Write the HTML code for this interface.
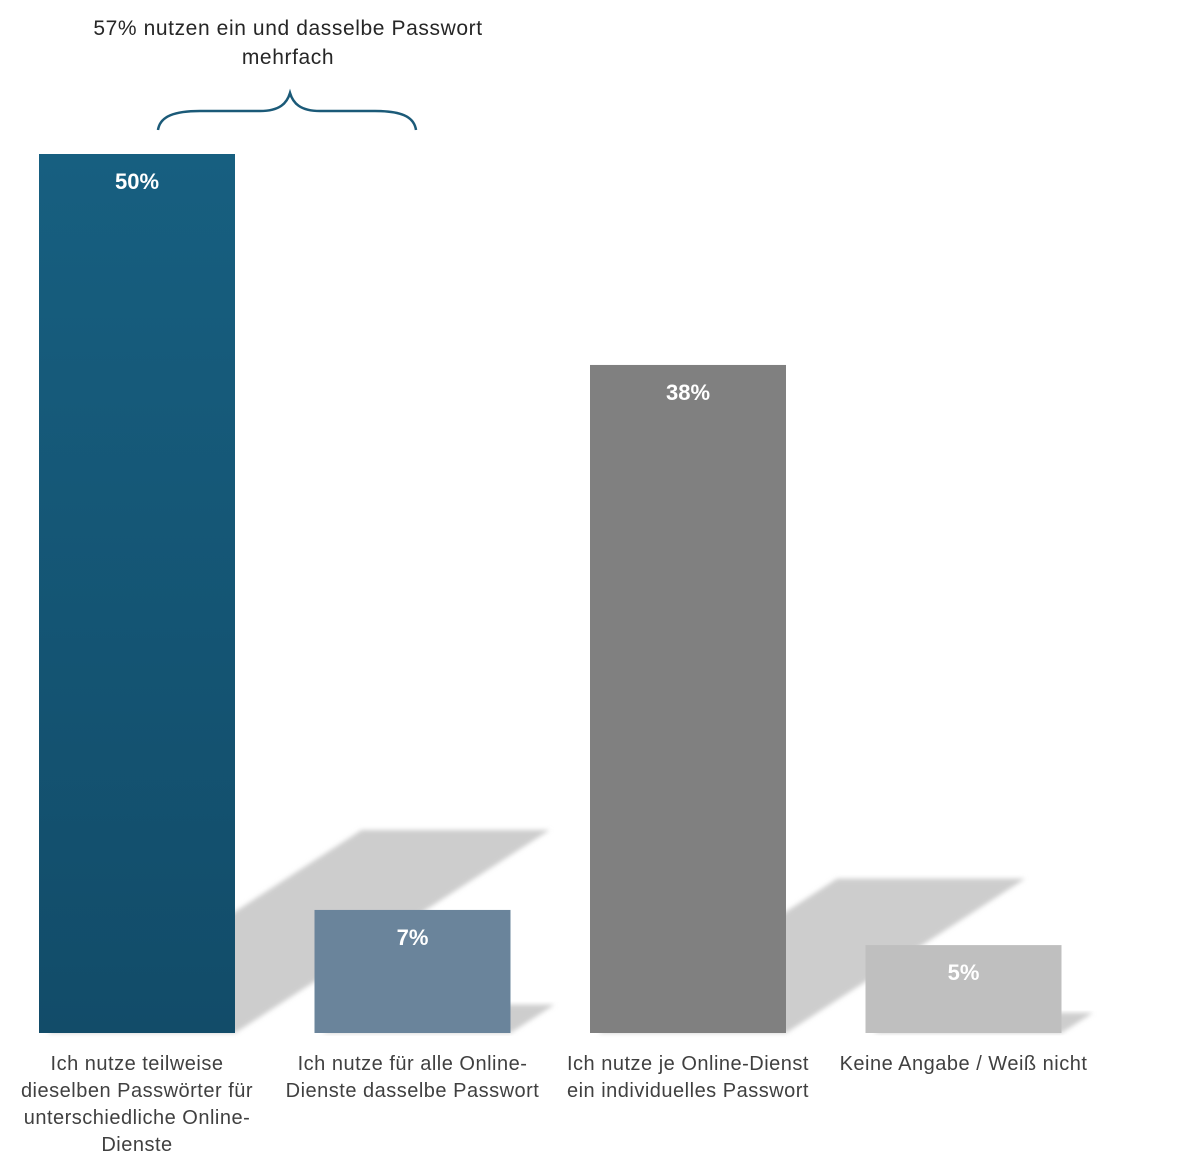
<!DOCTYPE html>
<html><head><meta charset="utf-8"><style>
html,body{margin:0;padding:0;background:#fff;}
svg{display:block;font-family:"Liberation Sans",sans-serif;}
</style></head><body>
<svg id="chart" width="1200" height="1169" viewBox="0 0 1200 1169">
<defs>
<linearGradient id="g1" x1="0" y1="0" x2="0" y2="1"><stop offset="0" stop-color="#175f80"/><stop offset="1" stop-color="#124c69"/></linearGradient>
<filter id="blur" x="-10%" y="-10%" width="120%" height="120%"><feGaussianBlur stdDeviation="2.5"/></filter>
</defs>
<g id="shadows"></g>
<g id="bars"></g>
<g id="labels"></g>
<text x="288" y="35" text-anchor="middle" font-size="21" letter-spacing="0.6" fill="#262626">57% nutzen ein und dasselbe Passwort</text>
<text x="288" y="64" text-anchor="middle" font-size="21" letter-spacing="0.6" fill="#262626">mehrfach</text>
<path d="M158,130 C160,116 175,111 200,111 L260,111 C280,111 287,103 290,93 C293,103 300,111 320,111 L375,111 C400,111 414,116 416,130" fill="none" stroke="#1b5a78" stroke-width="2.5"/>
</svg>
<script>
const categories = [
  ["Ich nutze teilweise","dieselben Passwörter für","unterschiedliche Online-","Dienste"],
  ["Ich nutze für alle Online-","Dienste dasselbe Passwort"],
  ["Ich nutze je Online-Dienst","ein individuelles Passwort"],
  ["Keine Angabe / Weiß nicht"]
];
const values = [50, 7, 38, 5];
const valueLabels = ["50%", "7%", "38%", "5%"];
const colors = ["url(#g1)", "#6a849b", "#808080", "#bfbfbf"];

const NS = "http://www.w3.org/2000/svg";
const baseY = 1033, pxPer = 17.58, barW = 196, x0 = 39, step = 275.5;
const yScale = v => baseY - v * pxPer;
const xScale = i => x0 + i * step;
const sh = document.getElementById('shadows'), bg = document.getElementById('bars'), lg = document.getElementById('labels');
function mk(tag, attrs){const e=document.createElementNS(NS,tag);for(const k in attrs)e.setAttribute(k,attrs[k]);return e;}
values.forEach((v,i)=>{
  const x = xScale(i), top = yScale(v), h = baseY - top;
  const dx = 0.358*h, dy = 0.231*h;
  const p = mk('polygon',{points:`${x+8},${baseY} ${x+barW},${baseY} ${x+barW+dx},${baseY-dy} ${x+dx+8},${baseY-dy}`,fill:'#cdcdcd',filter:'url(#blur)'});
  
  
  sh.appendChild(p);
  const r = mk('rect',{x:x,y:top,width:barW,height:h,fill:colors[i]});
  
  
  bg.appendChild(r);
  const t = mk('text',{x:x+barW/2,y:top+35,'text-anchor':'middle','font-size':'22','font-weight':'bold',fill:'#fff'});
  t.textContent = valueLabels[i];
  
  
  bg.appendChild(t);
  categories[i].forEach((line,j)=>{
    const c = mk('text',{x:x+barW/2,y:1070+j*27,'text-anchor':'middle','font-size':'20','letter-spacing':'0.5',fill:'#404040'});
    c.textContent = line;
    
    
    lg.appendChild(c);
  });
});
</script>
</body></html>
